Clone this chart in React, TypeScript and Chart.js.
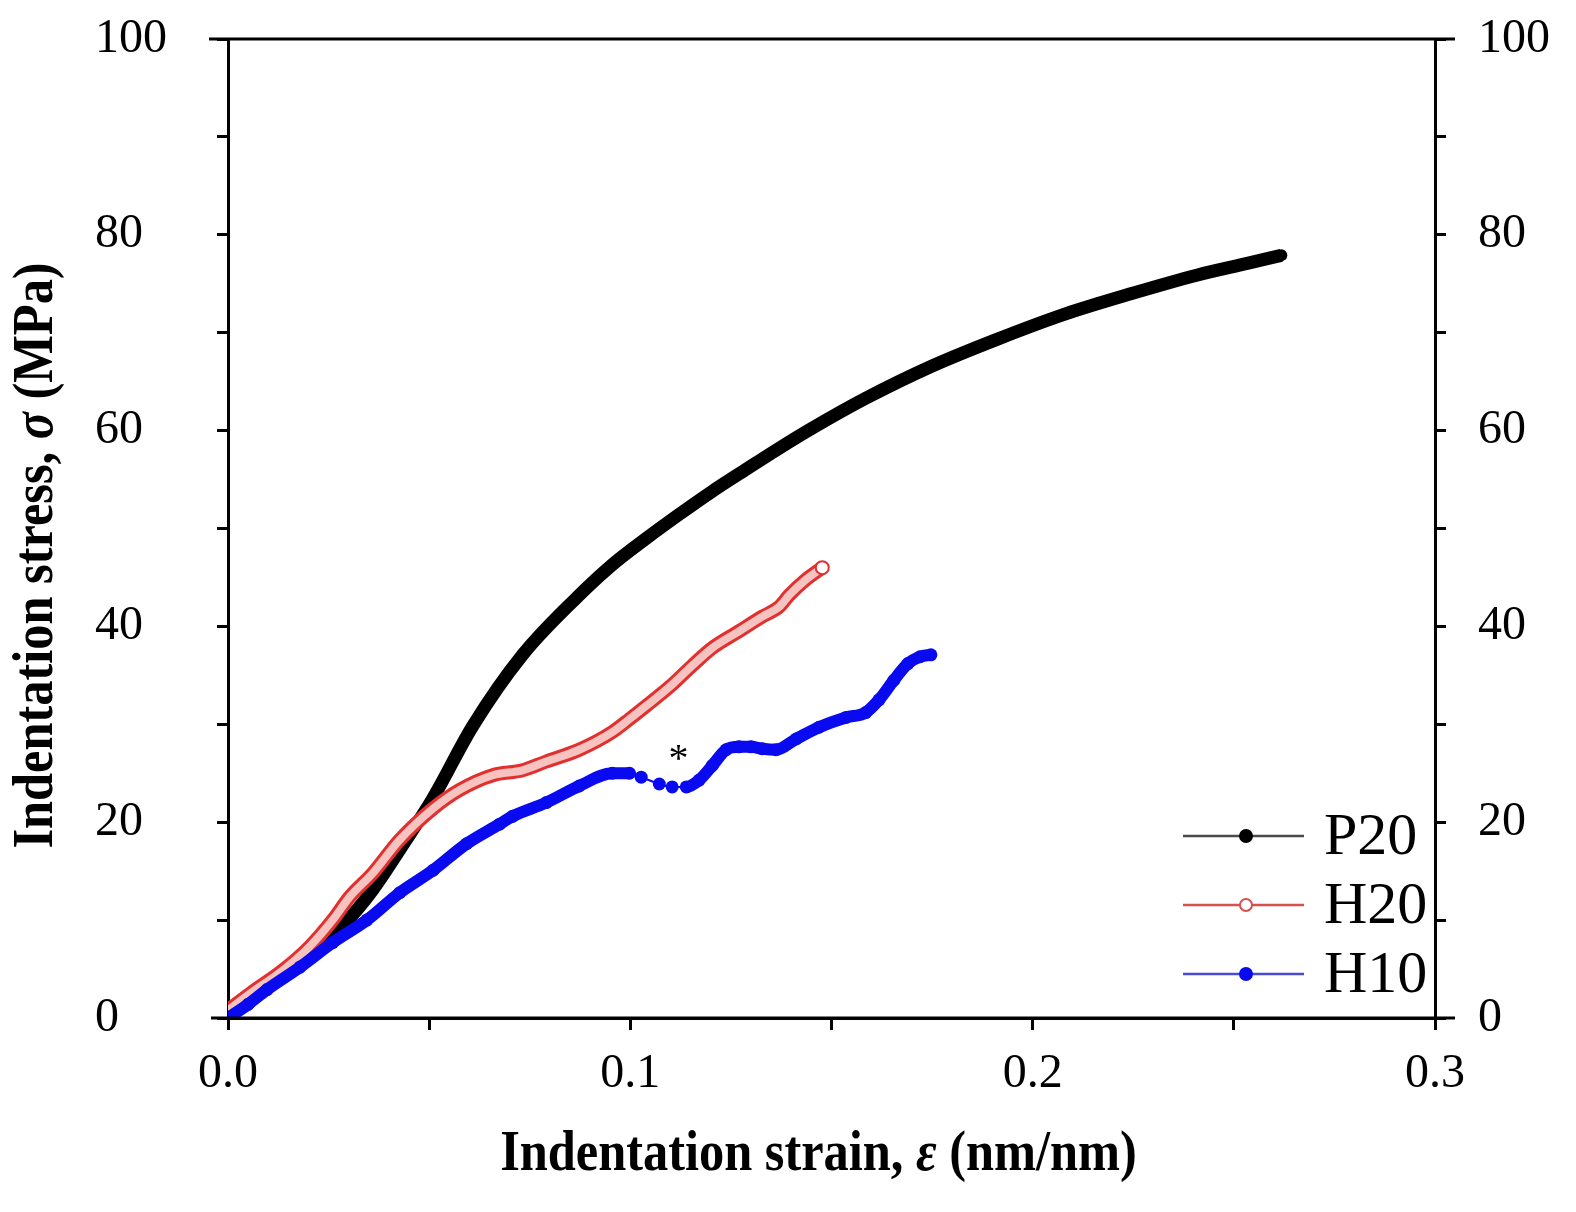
import React, { useEffect, useRef } from 'react';
import { Chart, registerables } from 'chart.js';

Chart.register(...registerables);

// ---------------- data ----------------
const SERIES_NAMES = ['P20', 'H20', 'H10'];

const P20_X = [0, 0.0055, 0.0137, 0.022, 0.0295, 0.036, 0.0427, 0.051, 0.0608, 0.0732, 0.0891, 0.0955, 0.104, 0.112, 0.12, 0.129, 0.137, 0.145, 0.1585, 0.175, 0.1916, 0.208, 0.2246, 0.241, 0.2536, 0.2618];
const P20_Y = [0.4, 2.1, 4.6, 7.3, 9.9, 13.1, 17.2, 22.5, 29.8, 37.1, 43.9, 46.3, 49.0, 51.4, 53.7, 56.1, 58.2, 60.2, 63.3, 66.6, 69.4, 71.9, 74.0, 75.9, 77.1, 77.9];

const H20_X = [0, 0.0055, 0.0137, 0.0203, 0.026, 0.0303, 0.036, 0.0427, 0.051, 0.0576, 0.0658, 0.0732, 0.0791, 0.0873, 0.0955, 0.1, 0.104, 0.1097, 0.1154, 0.1204, 0.127, 0.1328, 0.137, 0.1395, 0.1437, 0.1477];
const H20_Y = [0.8, 2.5, 4.9, 7.3, 10.0, 12.4, 14.8, 18.2, 21.4, 23.3, 24.8, 25.3, 26.2, 27.4, 29.2, 30.6, 31.9, 33.8, 36.0, 37.8, 39.5, 41.0, 42.0, 43.2, 44.8, 46.0];

const H10_X = [0, 0.005, 0.0097, 0.0179, 0.026, 0.0345, 0.0427, 0.051, 0.0593, 0.0675, 0.0707, 0.0791, 0.0873, 0.0955, 0.0998, 0.1027, 0.1072, 0.1104, 0.1139, 0.1171, 0.1204, 0.1238, 0.127, 0.13, 0.1328, 0.1362, 0.1412, 0.1469, 0.1536, 0.1585, 0.1618, 0.1655, 0.169, 0.172, 0.1747];
const H10_Y = [0, 1.4, 2.9, 5.2, 7.7, 10.0, 12.8, 15.1, 17.8, 19.8, 20.6, 22.0, 23.7, 25.0, 25.0, 24.6, 23.9, 23.6, 23.6, 24.3, 25.8, 27.4, 27.7, 27.7, 27.5, 27.4, 28.5, 29.7, 30.7, 31.2, 32.5, 34.5, 36.2, 36.9, 37.1];

// sparse stretch of H10 (separate dots, thin line) around the asterisk
const H10_SPARSE_FROM = 0.0998;
const H10_SPARSE_TO = 0.1139;

const X_MIN = 0;
const X_MAX = 0.3;
const X_TICK_STEP = 0.05;
const X_LABEL_EVERY = 0.1;
const Y_MIN = 0;
const Y_MAX = 100;
const Y_TICK_STEP = 10;
const Y_LABEL_EVERY = 20;

const ASTERISK_X = 0.112;
const ASTERISK_Y = 25.2;

const X_TITLE = ['Indentation strain, ', 'ε', ' (nm/nm)'];
const Y_TITLE = ['Indentation stress, ', 'σ', ' (MPa)'];

// ---------------- styles ----------------
const SERIF = '"Liberation Serif", "Times New Roman", Times, serif';
const COL_P20 = '#000000';
const COL_H20 = '#e2302f';
const COL_H20_IN = '#f6c3c1';
const COL_H10 = '#0a0af0';

const toPts = (xs: number[], ys: number[]) => xs.map((x, i) => ({ x, y: ys[i] }));

function drawRich(ctx: CanvasRenderingContext2D, parts: string[], size: number, scaleX: number) {
  const styles = ['bold', 'italic bold', 'bold'];
  const widths: number[] = [];
  let total = 0;
  parts.forEach((t, i) => {
    ctx.font = `${styles[i]} ${size}px ${SERIF}`;
    const w = ctx.measureText(t).width;
    widths.push(w);
    total += w;
  });
  ctx.scale(scaleX, 1);
  let x = -total / 2;
  ctx.textAlign = 'left';
  ctx.textBaseline = 'alphabetic';
  parts.forEach((t, i) => {
    ctx.font = `${styles[i]} ${size}px ${SERIF}`;
    ctx.fillText(t, x, 0);
    x += widths[i];
  });
}

const decorPlugin = {
  id: 'decor',
  afterDraw(chart: any) {
    const { ctx, chartArea: a, scales } = chart;
    ctx.save();
    // frame: top line and extensions of top / bottom lines
    ctx.strokeStyle = '#000';
    ctx.lineWidth = 3;
    ctx.beginPath();
    ctx.moveTo(a.left - 19, a.top);
    ctx.lineTo(a.right + 20, a.top);
    ctx.moveTo(a.left - 17, a.bottom);
    ctx.lineTo(a.right + 20, a.bottom);
    ctx.stroke();

    // asterisk annotation
    ctx.fillStyle = '#000';
    ctx.font = `40px ${SERIF}`;
    ctx.textAlign = 'center';
    ctx.textBaseline = 'alphabetic';
    ctx.fillText('*', scales.x.getPixelForValue(ASTERISK_X), scales.y.getPixelForValue(ASTERISK_Y));

    // legend
    const legendStyles = [
      { line: '#4a4a4a', fill: COL_P20, stroke: COL_P20 },
      { line: '#d8504e', fill: '#ffffff', stroke: '#d8504e' },
      { line: '#4a4ad0', fill: COL_H10, stroke: COL_H10 },
    ];
    const rowY = [a.bottom - 182, a.bottom - 113, a.bottom - 44];
    SERIES_NAMES.forEach((name, i) => {
      const y = rowY[i];
      const st = legendStyles[i];
      ctx.strokeStyle = st.line;
      ctx.lineWidth = 2.5;
      ctx.beginPath();
      ctx.moveTo(a.right - 252, y);
      ctx.lineTo(a.right - 131, y);
      ctx.stroke();
      ctx.beginPath();
      ctx.arc(a.right - 189, y, 6, 0, Math.PI * 2);
      ctx.fillStyle = st.fill;
      ctx.fill();
      ctx.lineWidth = 2;
      ctx.strokeStyle = st.stroke;
      ctx.stroke();
      ctx.fillStyle = '#000';
      ctx.font = `60px ${SERIF}`;
      ctx.textAlign = 'left';
      ctx.textBaseline = 'middle';
      ctx.fillText(name, a.right - 111, y + 2);
    });

    // axis titles
    ctx.fillStyle = '#000';
    ctx.save();
    ctx.translate((a.left + a.right) / 2 - 13, a.bottom + 152);
    drawRich(ctx, X_TITLE, 56, 0.9);
    ctx.restore();

    ctx.save();
    ctx.translate(52, (a.top + a.bottom) / 2 + 27);
    ctx.rotate(-Math.PI / 2);
    drawRich(ctx, Y_TITLE, 56, 0.9);
    ctx.restore();

    ctx.restore();
  },
};

const tickFont = { family: SERIF, size: 48 };

export default function App() {
  const ref = useRef<HTMLCanvasElement | null>(null);

  useEffect(() => {
    document.body.style.margin = '0';
    const canvas = ref.current;
    if (!canvas) return;
    const lastH20 = H20_X.length - 1;
    const chart = new Chart(canvas, {
      type: 'line',
      data: {
        datasets: [
          {
            label: SERIES_NAMES[2],
            data: toPts(H10_X, H10_Y),
            borderColor: COL_H10,
            backgroundColor: COL_H10,
            borderWidth: 12,
            pointRadius: 6.5,
            pointBorderWidth: 0,
            pointBackgroundColor: COL_H10,
            cubicInterpolationMode: 'monotone',
            segment: {
              borderWidth: (c: any) =>
                c.p0.parsed.x >= H10_SPARSE_FROM && c.p1.parsed.x <= H10_SPARSE_TO ? 2 : undefined,
            },
          } as any,
          {
            label: SERIES_NAMES[1] + ' inner',
            data: toPts(H20_X, H20_Y),
            borderColor: COL_H20_IN,
            borderWidth: 8,
            pointRadius: (c: any) => (c.dataIndex === lastH20 ? 6.5 : 0),
            pointBackgroundColor: '#ffffff',
            pointBorderColor: COL_H20,
            pointBorderWidth: 2,
            cubicInterpolationMode: 'monotone',
          } as any,
          {
            label: SERIES_NAMES[1],
            data: toPts(H20_X, H20_Y),
            borderColor: COL_H20,
            borderWidth: 14,
            pointRadius: 0,
            cubicInterpolationMode: 'monotone',
          } as any,
          {
            label: SERIES_NAMES[0],
            data: toPts(P20_X, P20_Y),
            borderColor: COL_P20,
            backgroundColor: COL_P20,
            borderWidth: 13,
            pointRadius: 6,
            pointBorderWidth: 0,
            pointBackgroundColor: COL_P20,
            cubicInterpolationMode: 'monotone',
          } as any,
        ],
      },
      options: {
        animation: false,
        responsive: false,
        layout: { padding: { left: 95, top: 39, right: 0, bottom: 0 } },
        plugins: { legend: { display: false }, tooltip: { enabled: false } },
        scales: {
          x: {
            type: 'linear',
            position: 'bottom',
            min: X_MIN,
            max: X_MAX,
            border: { display: true, color: '#000', width: 3 },
            grid: { display: true, drawOnChartArea: false, drawTicks: true, tickLength: 12, lineWidth: 3, tickWidth: 3, color: '#000', tickColor: '#000' },
            ticks: {
              stepSize: X_TICK_STEP,
              autoSkip: false,
              maxRotation: 0,
              padding: 16,
              color: '#000',
              font: tickFont,
              callback: (v: any) => {
                const n = Math.round(Number(v) / X_TICK_STEP);
                const every = Math.round(X_LABEL_EVERY / X_TICK_STEP);
                return n % every === 0 ? (n * X_TICK_STEP).toFixed(1) : '';
              },
            },
            afterFit: (s: any) => { s.height = 194; s.paddingLeft = 0; s.paddingRight = 0; },
          },
          y: {
            type: 'linear',
            position: 'left',
            min: Y_MIN,
            max: Y_MAX,
            border: { display: true, color: '#000', width: 3 },
            grid: { display: true, drawOnChartArea: false, drawTicks: true, tickLength: 11, lineWidth: 3, tickWidth: 3, color: '#000', tickColor: '#000' },
            ticks: {
              stepSize: Y_TICK_STEP,
              autoSkip: false,
              crossAlign: 'far',
              padding: 10,
              color: '#000',
              font: tickFont,
              callback: (v: any) => (Math.round(Number(v)) % Y_LABEL_EVERY === 0 ? String(Math.round(Number(v))) : ''),
            },
            afterFit: (s: any) => { s.width = 133; s.paddingTop = 0; s.paddingBottom = 0; },
          },
          y2: {
            type: 'linear',
            position: 'right',
            min: Y_MIN,
            max: Y_MAX,
            border: { display: true, color: '#000', width: 3 },
            grid: { display: true, drawOnChartArea: false, drawTicks: true, tickLength: 11, lineWidth: 3, tickWidth: 3, color: '#000', tickColor: '#000' },
            ticks: {
              stepSize: Y_TICK_STEP,
              autoSkip: false,
              padding: 32,
              color: '#000',
              font: tickFont,
              callback: (v: any) => (Math.round(Number(v)) % Y_LABEL_EVERY === 0 ? String(Math.round(Number(v))) : ''),
            },
            afterFit: (s: any) => { s.width = 141; s.paddingTop = 0; s.paddingBottom = 0; },
          },
        },
      } as any,
      plugins: [decorPlugin],
    });
    return () => chart.destroy();
  }, []);

  return (
    <div style={{ position: 'absolute', left: 0, top: 0, width: 1576, height: 1212, background: '#fff' }}>
      <canvas ref={ref} width={1576} height={1212} style={{ display: 'block' }} />
    </div>
  );
}
